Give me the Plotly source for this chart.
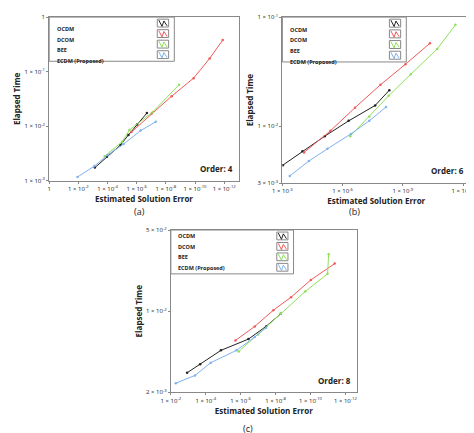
import plotly.graph_objects as go
import math

series_names = ["OCDM", "DCOM", "BEE", "ECDM (Proposed)"]
series_colors = ["#222222", "#f25a5a", "#8fe05a", "#7fb2ee"]

# Panel (a) Order 4
a_ocdm_x = [7.4e-4, 1.1e-4, 1.3e-5, 3.7e-6, 9.5e-7, 2.0e-7]
a_ocdm_y = [1.74e-3, 2.75e-3, 4.5e-3, 6.9e-3, 1.07e-2, 1.74e-2]
a_dcom_x = [2.3e-6, 9.5e-8, 4.0e-9, 1.26e-10, 1e-11, 1.26e-12]
a_dcom_y = [7.8e-3, 1.7e-2, 3.55e-2, 7.6e-2, 0.174, 0.38]
a_bee_x = [1.58e-4, 1e-5, 3.16e-6, 7.9e-8, 1.26e-9]
a_bee_y = [2.8e-3, 5.2e-3, 8.5e-3, 1.82e-2, 5.75e-2]
a_ecdm_x = [1.15e-2, 7.9e-4, 1e-4, 7.9e-6, 5.4e-7, 5e-8]
a_ecdm_y = [1.17e-3, 1.86e-3, 2.95e-3, 4.7e-3, 8.3e-3, 1.2e-2]

# Panel (b) Order 6
b_ocdm_x = [9.5e-4, 1e-4, 7.8e-6, 5e-7, 2.4e-8, 4.7e-9]
b_ocdm_y = [4.4e-3, 5.9e-3, 8.1e-3, 1.12e-2, 1.55e-2, 2.14e-2]
b_dcom_x = [8.3e-5, 4e-6, 2.4e-7, 1.3e-8, 7.4e-10, 4.5e-11]
b_dcom_y = [5.75e-3, 9.1e-3, 1.48e-2, 2.4e-2, 3.7e-2, 5.75e-2]
b_bee_x = [4.2e-7, 4.7e-8, 5.1e-9, 4e-10, 1.95e-11, 2.4e-12]
b_bee_y = [8.1e-3, 1.23e-2, 1.9e-2, 3e-2, 5.1e-2, 8.5e-2]
b_ecdm_x = [4.3e-4, 4.8e-5, 5.75e-6, 3.9e-7, 4.7e-8, 6.9e-9]
b_ecdm_y = [3.5e-3, 4.8e-3, 6.2e-3, 8.5e-3, 1.12e-2, 1.5e-2]

# Panel (c) Order 8
c_ocdm_x = [1.17e-3, 2.1e-4, 1.35e-5, 3.6e-7, 3.5e-8, 5e-9]
c_ocdm_y = [2.95e-3, 3.5e-3, 4.6e-3, 5.75e-3, 7.4e-3, 9.5e-3]
c_dcom_x = [2e-6, 1.55e-7, 1.35e-8, 1.3e-9, 9.5e-11, 4.1e-12]
c_dcom_y = [5.6e-3, 7.4e-3, 1.02e-2, 1.32e-2, 1.86e-2, 2.57e-2]
c_bee_x = [1.3e-6, 1e-7, 5e-9, 2e-10, 1.05e-11, 9.1e-12]
c_bee_y = [4.5e-3, 6.3e-3, 9.5e-3, 1.48e-2, 2.1e-2, 3.1e-2]
c_ecdm_x = [5.2e-3, 4.1e-4, 5.2e-5, 1.74e-6, 1.55e-7, 3.5e-8]
c_ecdm_y = [2.4e-3, 2.8e-3, 3.6e-3, 4.6e-3, 6e-3, 7.2e-3]

a_xticks = [1, 1e-2, 1e-4, 1e-6, 1e-8, 1e-10, 1e-12]
a_yticks = [1e-3, 1e-2, 1e-1, 1]
b_xticks = [1e-3, 1e-6, 1e-9, 1e-12]
b_yticks = [3e-3, 1e-2, 1e-1]
c_xticks = [1e-2, 1e-4, 1e-6, 1e-8, 1e-10, 1e-12]
c_yticks = [2e-3, 1e-2, 5e-2]

def lab(v):
    if v == 1:
        return "1"
    e = math.floor(math.log10(v) + 1e-9)
    m = round(v / 10 ** e)
    return f"{m} × 10<sup>{e}</sup>"

panels = [
    dict(k="", xd=[0.068, 0.481], yd=[0.603, 0.988], xr=[0, -13], yr=[-3, 0],
         xt=a_xticks, yt=a_yticks, order="Order: 4", cap="(a)", capx=0.249, capy=0.51,
         data=[(a_ocdm_x, a_ocdm_y), (a_dcom_x, a_dcom_y), (a_bee_x, a_bee_y), (a_ecdm_x, a_ecdm_y)]),
    dict(k="2", xd=[0.576, 0.985], yd=[0.597, 0.988], xr=[-3, -12.35], yr=[math.log10(3e-3), -1],
         xt=b_xticks, yt=b_yticks, order="Order: 6", cap="(b)", capx=0.749, capy=0.51,
         data=[(b_ocdm_x, b_ocdm_y), (b_dcom_x, b_dcom_y), (b_bee_x, b_bee_y), (b_ecdm_x, b_ecdm_y)]),
    dict(k="3", xd=[0.333, 0.738], yd=[0.105, 0.487], xr=[-2, -12.65], yr=[math.log10(2e-3), math.log10(5e-2)],
         xt=c_xticks, yt=c_yticks, order="Order: 8", cap="(c)", capx=0.5, capy=0.0,
         data=[(c_ocdm_x, c_ocdm_y), (c_dcom_x, c_dcom_y), (c_bee_x, c_bee_y), (c_ecdm_x, c_ecdm_y)]),
]

fig = go.Figure()
ann = []
shapes = []
fnt = "Open Sans"
for p in panels:
    k = p["k"]
    xa, ya = "x" + k, "y" + k
    for (xs, ys), c in zip(p["data"], series_colors):
        fig.add_trace(go.Scatter(x=xs, y=ys, xaxis=xa, yaxis=ya, mode="lines+markers",
                                 line=dict(color=c, width=1), marker=dict(size=2.5, color=c),
                                 showlegend=False))
    axcommon = dict(type="log", showgrid=False, zeroline=False, showline=True, mirror=True,
                    linecolor="#888888", linewidth=1, ticks="outside", ticklen=2,
                    tickcolor="#888888", tickfont=dict(size=6, family=fnt, color="#222"))
    fig.layout["xaxis" + k] = dict(axcommon, domain=p["xd"], range=p["xr"], anchor=ya,
                                   tickvals=p["xt"], ticktext=[lab(v) for v in p["xt"]],
                                   title=dict(text="<b>Estimated Solution Error</b>", standoff=2,
                                              font=dict(size=8, family=fnt, color="#222")))
    fig.layout["yaxis" + k] = dict(axcommon, domain=p["yd"], range=p["yr"], anchor=xa,
                                   tickvals=p["yt"], ticktext=[lab(v) for v in p["yt"]],
                                   title=dict(text="<b>Elapsed Time</b>", standoff=2,
                                              font=dict(size=8, family=fnt, color="#222")))
    x0, x1 = p["xd"]
    y0, y1 = p["yd"]
    w, h = x1 - x0, y1 - y0
    lx0, lx1 = x0, x0 + 0.66 * w
    ly1, ly0 = y1, y1 - 0.27 * h
    shapes.append(dict(type="rect", xref="paper", yref="paper", x0=lx0, x1=lx1, y0=ly0, y1=ly1,
                       line=dict(color="#888888", width=1), fillcolor="white"))
    for i, (n, c) in enumerate(zip(series_names, series_colors)):
        yy = ly1 - (i + 0.6) * (ly1 - ly0) / 4.2
        ann.append(dict(xref="paper", yref="paper", x=lx0 + 0.03 * w, y=yy, text=f"<b>{n}</b>",
                        showarrow=False, xanchor="left", font=dict(size=5.5, family=fnt, color="#222")))
        ix = lx1 - 0.09 * w
        shapes.append(dict(type="rect", xref="paper", yref="paper", x0=ix, x1=ix + 0.06 * w,
                           y0=yy - 0.022 * h, y1=yy + 0.026 * h, line=dict(color="#888", width=1)))
        shapes.append(dict(type="path", xref="paper", yref="paper",
                           path=f"M {ix+0.008*w},{yy+0.02*h} L {ix+0.025*w},{yy-0.018*h} L {ix+0.035*w},{yy+0.015*h} L {ix+0.052*w},{yy-0.015*h}",
                           line=dict(color=c, width=1)))
    ann.append(dict(xref="paper", yref="paper", x=x1 - 0.02 * w, y=y0 + 0.03 * h, text=f"<b>{p['order']}</b>",
                    showarrow=False, xanchor="right", yanchor="bottom",
                    font=dict(size=8, family=fnt, color="#222")))
    ann.append(dict(xref="paper", yref="paper", x=p["capx"], y=p["capy"], text=p["cap"], showarrow=False,
                    yanchor="bottom", font=dict(size=9, family=fnt, color="#222")))

fig.update_layout(width=474, height=433, margin=dict(l=0, r=0, t=0, b=0),
                  paper_bgcolor="white", plot_bgcolor="white", annotations=ann, shapes=shapes,
                  showlegend=False)
fig.write_html("out.html")
